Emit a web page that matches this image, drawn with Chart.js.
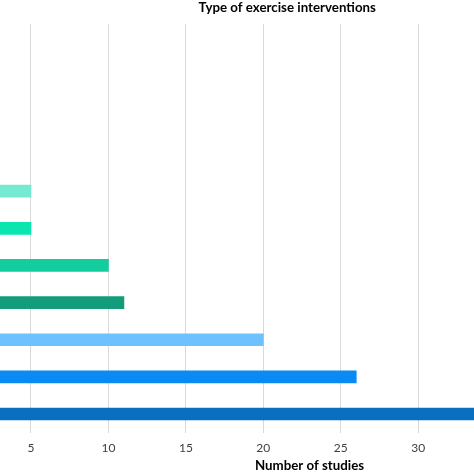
<!DOCTYPE html>
<html>
<head>
<meta charset="utf-8">
<script src="https://cdn.jsdelivr.net/npm/chart.js@4.4.1/dist/chart.umd.min.js"></script>
<style>
  html, body { margin: 0; padding: 0; background: #fff; }
  #wrap { width: 474px; height: 474px; }
</style>
</head>
<body>
<div id="wrap"><canvas id="chart"></canvas></div>
<script>
// categories (left-hand labels are cropped off in the reference)
const categories = ['Dance', 'Pilates', 'Aquatic', 'Stretching', 'Tai Chi', 'Yoga',
                    'Walking', 'HIIT', 'Combined', 'Resistance', 'Aerobic'];
const studies = [1, 1, 2, 2, 5, 5, 10, 11, 20, 26, 34];
const barColors = ['#a8f0e4', '#98eedf', '#8aecdb', '#80ebd7', '#74ead3', '#0be6b0',
                   '#14cd9f', '#129c79', '#6cc1fe', '#0a8bf3', '#0a6fbf'];
const xTicks = [5, 10, 15, 20, 25, 30];
const chartTitle = 'Type of exercise interventions';
const xTitle = 'Number of studies';

// titles sit off-centre because the original figure is cropped
const titlePlugin = {
  id: 'croppedTitles',
  afterDraw(chart) {
    const ctx = chart.ctx;
    const w = chart.width;
    ctx.save();
    ctx.fillStyle = '#000';
    ctx.textAlign = 'center';
    ctx.textBaseline = 'middle';
    ctx.font = 'bold 13.3px Lato';
    ctx.fillText(chartTitle, w * 0.606, 8);
    ctx.fillText(xTitle, w * 0.653, chart.height - 8);
    ctx.restore();
  }
};

new Chart(document.getElementById('chart'), {
  type: 'bar',
  data: {
    labels: categories,
    datasets: [{
      data: studies,
      backgroundColor: barColors,
      borderWidth: 0,
      barThickness: 12,
      clip: 0
    }]
  },
  options: {
    indexAxis: 'y',
    responsive: true,
    maintainAspectRatio: false,
    animation: false,
    layout: { padding: { top: 24, bottom: 11, left: 0, right: 0 } },
    plugins: {
      legend: { display: false },
      title: { display: false },
      tooltip: { enabled: false }
    },
    scales: {
      x: {
        min: 3.0,
        max: 33.6,
        border: { display: false },
        grid: { color: '#d9d9d9', lineWidth: 1, drawTicks: false },
        afterBuildTicks(scale) {
          scale.ticks = xTicks.map(v => ({ value: v }));
        },
        ticks: {
          padding: 8,
          color: '#404040',
          font: { family: 'Lato', size: 12 }
        }
      },
      y: {
        display: false
      }
    }
  },
  plugins: [titlePlugin]
});
</script>
</body>
</html>
